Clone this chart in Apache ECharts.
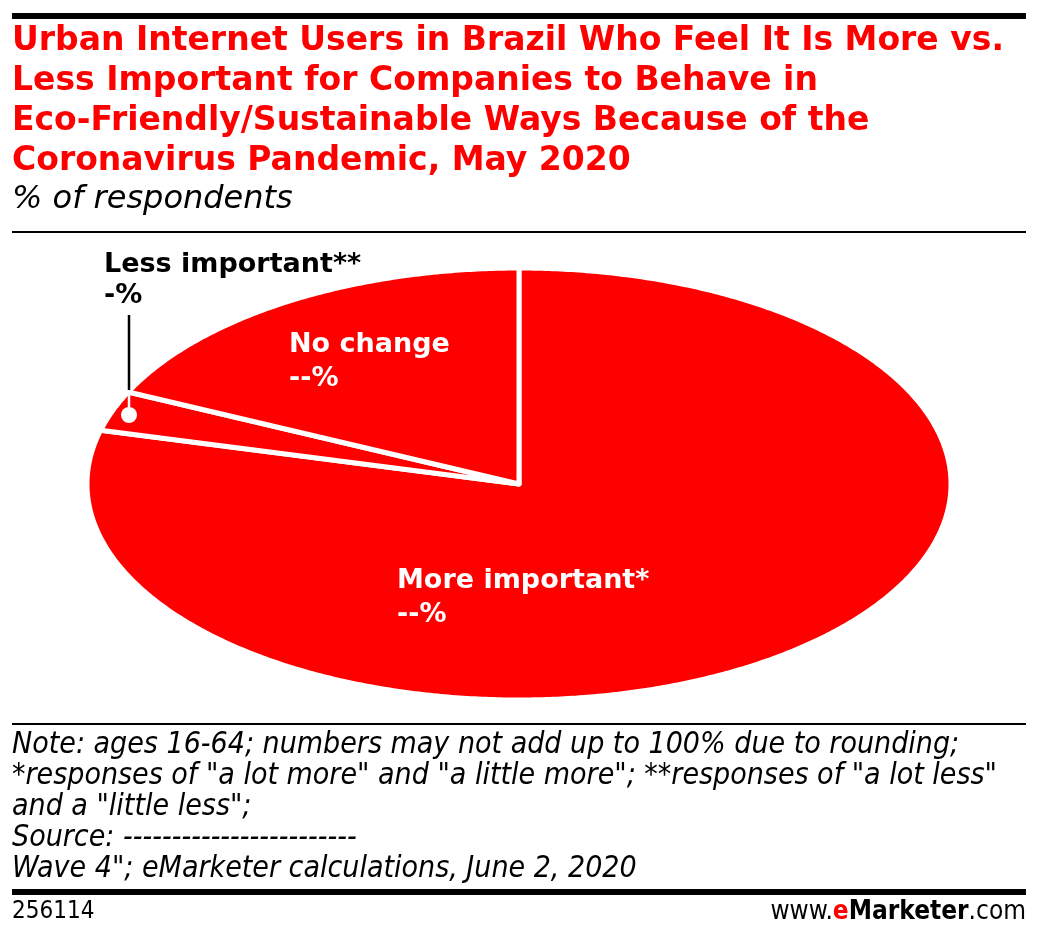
<!DOCTYPE html>
<html>
<head>
<meta charset="utf-8">
<script src="https://cdn.jsdelivr.net/npm/echarts@6/dist/echarts.min.js"></script>
<style>html,body{margin:0;padding:0;background:#fff}#c{width:1038px;height:941px}</style>
</head>
<body>
<div id="c"></div>
<script>
const titleLines = [
  'Urban Internet Users in Brazil Who Feel It Is More vs.',
  'Less Important for Companies to Behave in',
  'Eco-Friendly/Sustainable Ways Because of the',
  'Coronavirus Pandemic, May 2020'
];
const subtitle = '% of respondents';
const categories = ['More important*', 'Less important**', 'No change'];
const values = [79, 3, 18];
const valueLabels = ['--%', '-%', '--%'];
const noteLines = [
  'Note: ages 16-64; numbers may not add up to 100% due to rounding;',
  '*responses of "a lot more" and "a little more"; **responses of "a lot less"',
  'and a "little less";',
  'Source: ------------------------',
  'Wave 4"; eMarketer calculations, June 2, 2020'
];
const chartId = '256114';

const RED = '#ff0000';
const total = values.reduce((a, b) => a + b, 0);
let acc = 0;
const sliceData = values.map((v, i) => {
  const s = acc / total; acc += v; const e = acc / total;
  return [s, e, i];
});

const chart = echarts.init(document.getElementById('c'), null, {renderer: 'canvas'});
const TITLE_FONT = '"DejaVu Sans", sans-serif';
const NOTE_FONT = '"DejaVu Sans Condensed", "DejaVu Sans", sans-serif';

const graphics = [];
graphics.push({type: 'rect', left: 12, top: 13, shape: {width: 1014, height: 6}, style: {fill: '#000'}});
titleLines.forEach((t, i) => {
  graphics.push({type: 'text', left: 12, top: 25 + i * 40, style: {text: t, fill: RED, font: 'bold 33px ' + TITLE_FONT}});
});
graphics.push({type: 'text', left: 12, top: 184, style: {text: subtitle, fill: '#000', font: 'italic 32px ' + TITLE_FONT}});
graphics.push({type: 'rect', left: 12, top: 231, shape: {width: 1014, height: 2}, style: {fill: '#000'}});
graphics.push({type: 'rect', left: 12, top: 723, shape: {width: 1014, height: 2}, style: {fill: '#000'}});
noteLines.forEach((t, i) => {
  graphics.push({type: 'text', left: 12, top: 730 + i * 31, style: {text: t, fill: '#000', font: 'italic 30px ' + NOTE_FONT}});
});
graphics.push({type: 'rect', left: 12, top: 889, shape: {width: 1014, height: 6}, style: {fill: '#000'}});
graphics.push({type: 'text', left: 12, top: 900, style: {text: chartId, fill: '#000', font: '24px ' + NOTE_FONT}});
graphics.push({type: 'text', right: 12, top: 899, style: {
  text: '{a|www.}{b|e}{c|Marketer}{a|.com}',
  rich: {
    a: {font: '26px ' + NOTE_FONT, fill: '#000'},
    b: {font: 'bold 26px ' + NOTE_FONT, fill: RED},
    c: {font: 'bold 26px ' + NOTE_FONT, fill: '#000'}
  }
}});
// slice labels
const LABEL_FONT = 'bold 27px ' + TITLE_FONT;
graphics.push({type: 'text', z: 100, left: 397, top: 564, style: {text: categories[0] + '\n' + valueLabels[0], fill: '#fff', font: LABEL_FONT, lineHeight: 34}});
graphics.push({type: 'text', z: 100, left: 289, top: 328, style: {text: categories[2] + '\n' + valueLabels[2], fill: '#fff', font: LABEL_FONT, lineHeight: 34}});
graphics.push({type: 'text', z: 100, left: 104, top: 249, style: {text: categories[1] + '\n' + valueLabels[1], fill: '#000', font: LABEL_FONT, lineHeight: 31}});
// leader line for small slice
graphics.push({type: 'line', z: 100, shape: {x1: 129, y1: 315, x2: 129, y2: 390}, style: {stroke: '#000', lineWidth: 2.5}});
graphics.push({type: 'line', z: 100, shape: {x1: 129, y1: 390, x2: 129, y2: 412}, style: {stroke: '#fff', lineWidth: 2.5}});
graphics.push({type: 'circle', z: 100, shape: {cx: 129, cy: 415, r: 8}, style: {fill: '#fff'}});

chart.setOption({
  animation: false,
  grid: {left: 87, top: 268, width: 864, height: 432},
  xAxis: {type: 'value', min: -1, max: 1, show: false},
  yAxis: {type: 'value', min: -1, max: 1, show: false},
  graphic: graphics,
  series: [{
    type: 'custom',
    data: sliceData,
    encode: {x: 0, y: 1},
    clip: false,
    renderItem: function (params, api) {
      const s = api.value(0), e = api.value(1);
      const pts = [api.coord([0, 0])];
      const n = Math.max(4, Math.ceil((e - s) * 720));
      for (let k = 0; k <= n; k++) {
        const a = 2 * Math.PI * (s + (e - s) * k / n);
        pts.push(api.coord([Math.sin(a), Math.cos(a)]));
      }
      return {
        type: 'polygon',
        shape: {points: pts},
        style: {fill: RED, stroke: '#fff', lineWidth: 5, lineJoin: 'round'}
      };
    }
  }]
});
</script>
</body>
</html>
